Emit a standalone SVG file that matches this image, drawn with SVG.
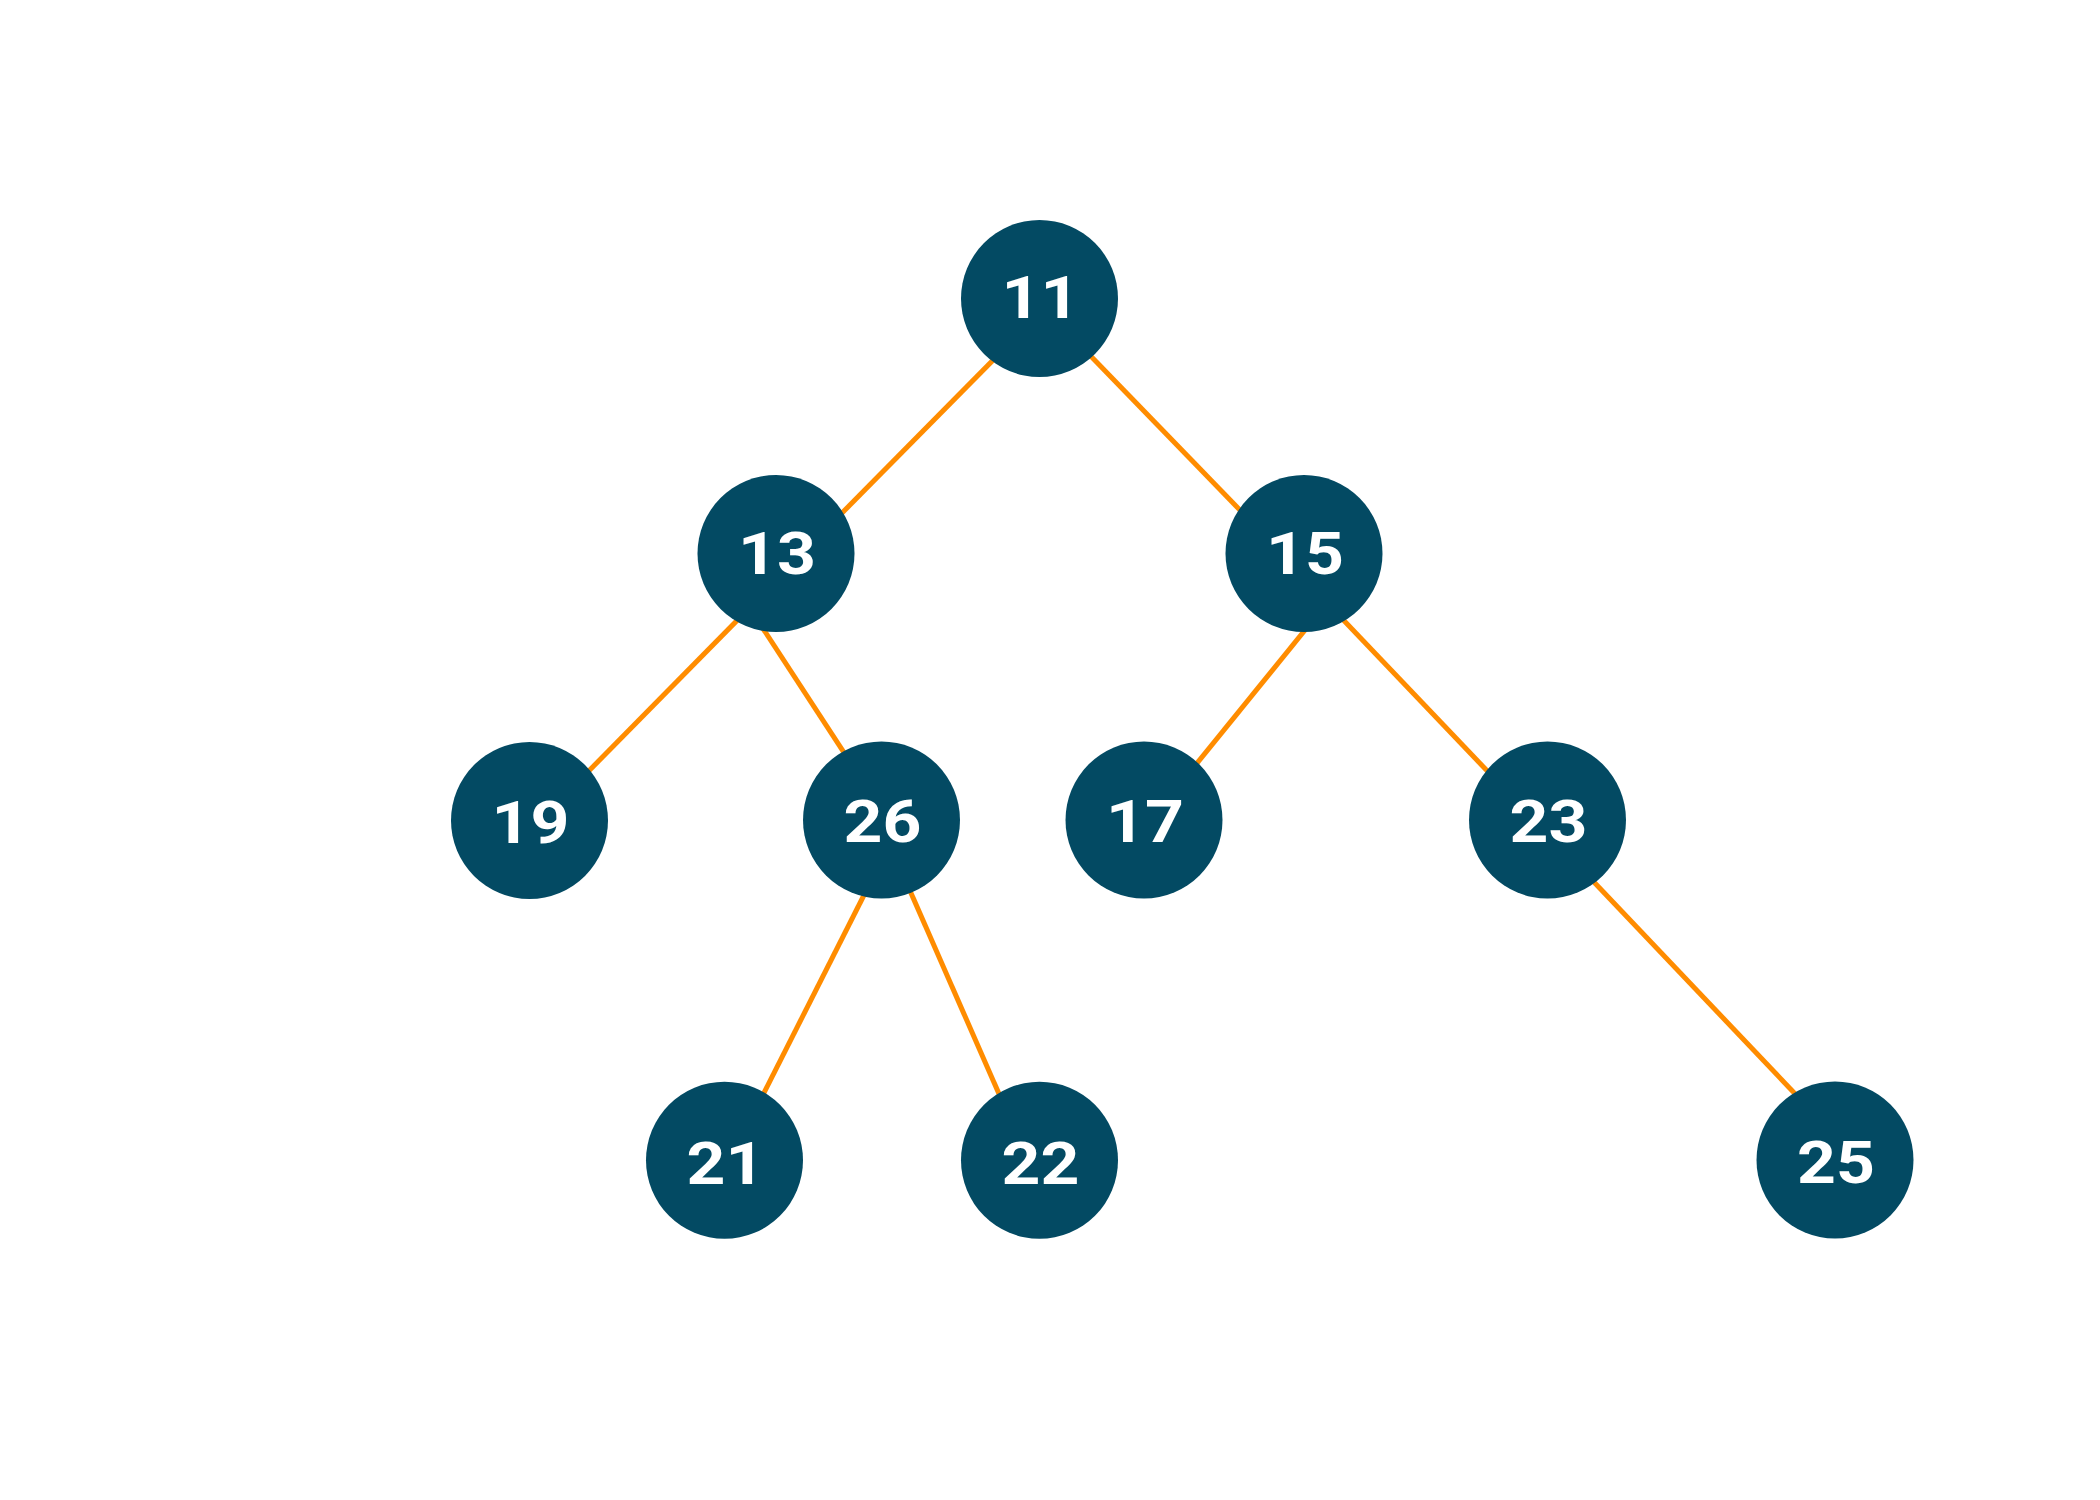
<svg xmlns="http://www.w3.org/2000/svg" width="2100" height="1500" viewBox="0 0 2100 1500">
<style>
.edge{stroke:#FF8C00;stroke-width:5;fill:none;stroke-linecap:butt}
.node circle{fill:#034A63}
.node text{fill:#FFFFFF;font-family:Roboto,"Noto Sans",sans-serif;font-weight:700;font-size:59px;text-anchor:middle}
</style>
<rect width="2100" height="1500" fill="#FFFFFF"/>
<g id="connectors">
<line class="edge" x1="1054" y1="298.5" x2="802" y2="553.5"/>
<line class="edge" x1="1035" y1="298.5" x2="1282" y2="553.5"/>
<line class="edge" x1="803" y1="553.5" x2="540" y2="820.5"/>
<line class="edge" x1="714" y1="553.5" x2="888" y2="820"/>
<line class="edge" x1="1367" y1="553.5" x2="1151" y2="820"/>
<line class="edge" x1="1280" y1="553.5" x2="1534" y2="820"/>
<line class="edge" x1="902" y1="820" x2="730" y2="1160"/>
<line class="edge" x1="879" y1="820" x2="1028" y2="1160"/>
<line class="edge" x1="1535" y1="820" x2="1858" y2="1160"/>
</g>
<g id="node-11" class="node"><circle cx="1039.5" cy="298.5" r="78.5"/><text transform="translate(1040.5,317.5) scale(1.15,1)">11</text></g>
<g id="node-13" class="node"><circle cx="776" cy="553.5" r="78.5"/><text transform="translate(777,574) scale(1.15,1)">13</text></g>
<g id="node-15" class="node"><circle cx="1304" cy="553.5" r="78.5"/><text transform="translate(1305,574) scale(1.15,1)">15</text></g>
<g id="node-19" class="node"><circle cx="529.5" cy="820.5" r="78.5"/><text transform="translate(530.5,842.5) scale(1.15,1)">19</text></g>
<g id="node-26" class="node"><circle cx="881.5" cy="820" r="78.5"/><text transform="translate(882.5,842) scale(1.15,1)">26</text></g>
<g id="node-17" class="node"><circle cx="1144" cy="820" r="78.5"/><text transform="translate(1145,842) scale(1.15,1)">17</text></g>
<g id="node-23" class="node"><circle cx="1547.5" cy="820" r="78.5"/><text transform="translate(1548.5,842) scale(1.15,1)">23</text></g>
<g id="node-21" class="node"><circle cx="724.5" cy="1160.3" r="78.5"/><text transform="translate(725.5,1183.5) scale(1.15,1)">21</text></g>
<g id="node-22" class="node"><circle cx="1039.5" cy="1160.3" r="78.5"/><text transform="translate(1040.5,1183.5) scale(1.15,1)">22</text></g>
<g id="node-25" class="node"><circle cx="1835" cy="1160" r="78.5"/><text transform="translate(1836,1183) scale(1.15,1)">25</text></g>
</svg>
